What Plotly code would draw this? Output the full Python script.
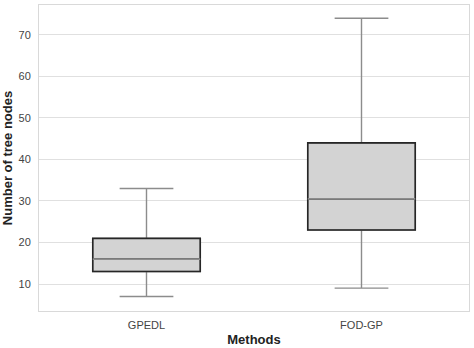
import plotly.graph_objects as go

methods = ["GPEDL", "FOD-GP"]
lower_whisker = [7, 9]
q1 = [13, 23]
median = [16, 30.5]
q3 = [21, 44]
upper_whisker = [33, 74]
y_ticks = [10, 20, 30, 40, 50, 60, 70]

common = dict(x=methods, width=0.5, boxpoints=False, hoverinfo="skip", showlegend=False)

fig = go.Figure()
# full box: gray whiskers, caps, median
fig.add_trace(go.Box(
    q1=q1, median=median, q3=q3,
    lowerfence=lower_whisker, upperfence=upper_whisker,
    fillcolor="#d3d3d3", line=dict(color="#8c8c8c", width=1.4),
    whiskerwidth=0.5, **common,
))
# dark box outline
fig.add_trace(go.Box(
    q1=q1, median=median, q3=q3,
    lowerfence=q1, upperfence=q3,
    fillcolor="rgba(0,0,0,0)", line=dict(color="#262626", width=1.6),
    whiskerwidth=0, **common,
))
# gray median line on top
fig.add_trace(go.Box(
    q1=median, median=median, q3=median,
    lowerfence=median, upperfence=median,
    fillcolor="rgba(0,0,0,0)", line=dict(color="#8c8c8c", width=1.8),
    whiskerwidth=0, **common,
))

fig.update_layout(
    width=474, height=348,
    margin=dict(l=39, r=4, t=4, b=36),
    paper_bgcolor="white", plot_bgcolor="white",
    boxmode="overlay",
    font=dict(family="Liberation Sans, Arial, sans-serif", color="#333333", size=11),
    xaxis=dict(
        range=[-0.5, 1.5], showgrid=False, ticks="", zeroline=False,
        showline=True, linecolor="#d9d9d9", linewidth=1, mirror=True,
        ticklabelstandoff=4,
        title=dict(text="<b>Methods</b>", font=dict(size=13, color="#222222"), standoff=4),
        tickfont=dict(size=11, color="#444444"),
    ),
    yaxis=dict(
        range=[3.5, 77.2], tickvals=y_ticks, showgrid=True, gridcolor="#e0e0e0",
        gridwidth=1, zeroline=False, ticks="",
        showline=True, linecolor="#d9d9d9", linewidth=1, mirror=True,
        ticklabelstandoff=5,
        title=dict(text="<b>Number of tree nodes</b>", font=dict(size=13, color="#222222"), standoff=2),
        tickfont=dict(size=11, color="#444444"),
    ),
)

fig.write_html("out.html")
